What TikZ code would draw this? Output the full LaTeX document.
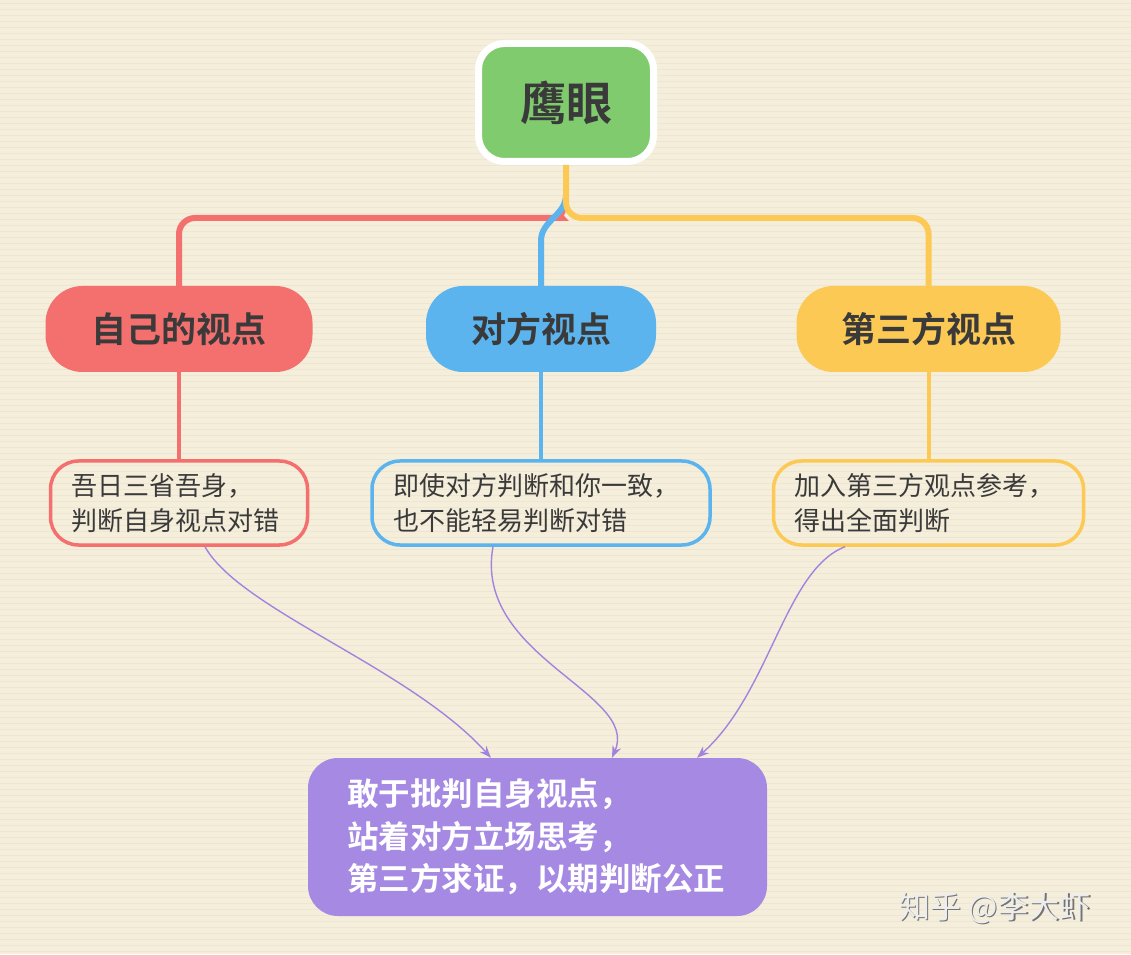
\documentclass[tikz,border=0pt]{standalone}
\usepackage{fontspec}
\setmainfont{Noto Sans CJK SC}
\newfontfamily\cjkb{Noto Sans CJK SC Bold}
\usetikzlibrary{arrows.meta,calc}
\definecolor{bgc}{HTML}{F5EEDB}
\definecolor{gfill}{HTML}{7FCB6E}
\definecolor{rfill}{HTML}{F4706E}
\definecolor{bfill}{HTML}{5CB4EE}
\definecolor{yfill}{HTML}{FDC955}
\definecolor{pfill}{HTML}{A689E3}
\definecolor{parrow}{HTML}{A383DE}
\definecolor{txt}{HTML}{3A3A3A}
\tikzset{
  catbox/.style={rounded corners=37pt, minimum height=86pt, inner sep=0pt,
    font=\cjkb\fontsize{35}{40}\selectfont, text=txt},
  leafbox/.style={draw, line width=3.5pt, rounded corners=28pt, minimum height=84pt,
    inner xsep=21pt, inner ysep=0pt, align=left, text=txt,
    font=\fontsize{26}{35}\selectfont},
  thick line/.style={line width=6pt},
  thin line/.style={line width=4pt},
  purpar/.style={draw=parrow, line width=1.4pt, -{Stealth[length=12pt,width=9pt]}}
}
\begin{document}
\begin{tikzpicture}[x=1pt,y=1pt]
\fill[bgc] (0,0) rectangle (1131,954);
\useasboundingbox (0,0) rectangle (1131,954);
% subtle paper streaks
\foreach \yy in {3,9,...,951}{
  \draw[color=black!10!bgc, line width=0.7pt, opacity=0.3] (0,\yy) -- (1131,\yy);
}
% root
\node[draw=white, line width=7pt, fill=gfill, rounded corners=26pt,
  minimum width=175pt, minimum height=118pt, inner sep=0pt,
  font=\cjkb\fontsize{46}{50}\selectfont, text=txt] (root) at (566,851.5) {鹰眼};
% category nodes
\node[catbox, fill=rfill, minimum width=267pt] (own) at (179,625) {自己的视点};
\node[catbox, fill=bfill, minimum width=230pt] (opp) at (541,625) {对方视点};
\node[catbox, fill=yfill, minimum width=264pt] (third) at (928.5,625) {第三方视点};
% leaf nodes
\node[leafbox, draw=rfill, text width=215pt] (ownl) at (179,451) {吾日三省吾身，\\判断自身视点对错};
\node[leafbox, draw=bfill, text width=296pt] (oppl) at (541,451) {即使对方判断和你一致，\\也不能轻易判断对错};
\node[leafbox, draw=yfill, text width=268pt] (thirdl) at (928.5,451) {加入第三方观点参考，\\得出全面判断};
% conclusion
\node[fill=pfill, rounded corners=30pt, minimum width=459pt, minimum height=158pt,
  inner xsep=39pt, text width=381pt, align=left, text=white,
  font=\cjkb\fontsize{31.5}{42.5}\selectfont] (concl) at (537.5,117) {敢于批判自身视点，\\站着对方立场思考，\\第三方求证，以期判断公正};
% top connectors
\draw[rfill, thick line, rounded corners=16pt] ([yshift=-33pt]root.south) to[out=-90,in=0] ++(-20,-20) -| (own.north);
\draw[bfill, thick line] ([yshift=-30pt]root.south) to[out=-90,in=90] ($(opp.north)+(0,45)$) -- (opp.north);
\draw[yfill, thick line, rounded corners=16pt] (root.south) -- ++(0,-53) -| (third.north);
% lower connectors
\draw[rfill, thin line] (own.south) -- (ownl.north);
\draw[bfill, thin line] (opp.south) -- (oppl.north);
\draw[yfill, thin line] (third.south) -- (thirdl.north);
% purple arrows
\draw[purpar] ([xshift=26pt]ownl.south) .. controls +(35,-63) and +(-81,90) .. ([xshift=-46.5pt]concl.north);
\draw[purpar] ([xshift=-48pt]oppl.south) .. controls +(-20,-110) and +(28,65) .. ([xshift=74.5pt]concl.north);
\draw[purpar] ([xshift=-83.5pt]thirdl.south) .. controls +(-60,-23) and +(73,65) .. ([xshift=159.5pt]concl.north);
% watermark
\node[text=black!55, font=\fontsize{31}{34}\selectfont, anchor=center] (wm0) at (996.5,44.5) {知乎 @李大虾};
\node[text=white!93!black, font=\fontsize{31}{34}\selectfont, anchor=center] (wm) at (995,46) {知乎 @李大虾};
\end{tikzpicture}
\end{document}
